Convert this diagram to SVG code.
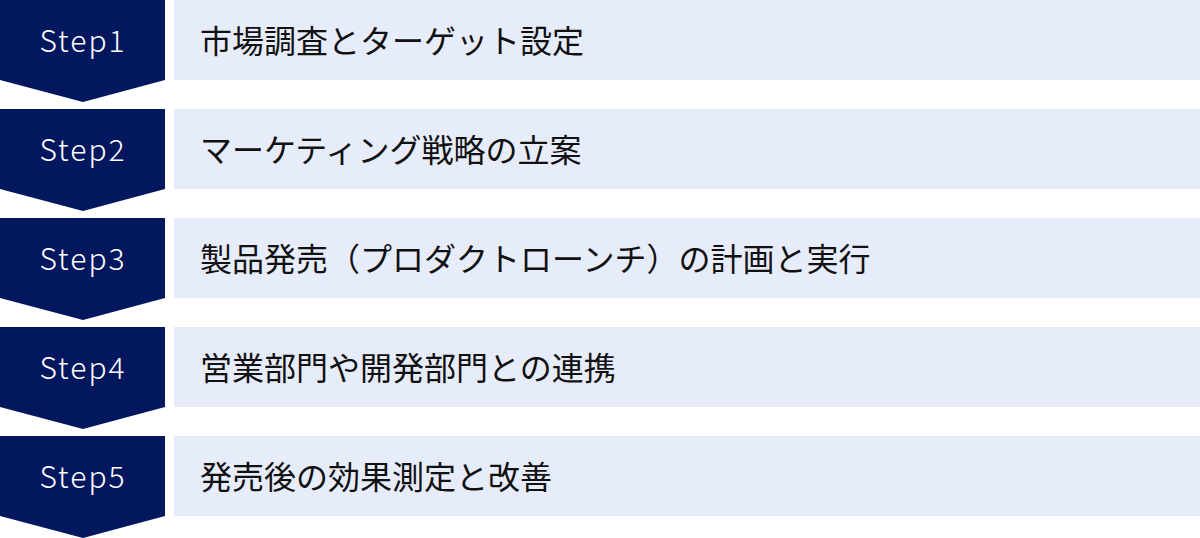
<svg xmlns="http://www.w3.org/2000/svg" width="1200" height="538" viewBox="0 0 1200 538">
<style>
.chev{fill:#03175F}
.box{fill:#E6ECF9}
.st{font-family:"Noto Sans CJK JP","Noto Sans",sans-serif;font-size:30px;font-weight:300;fill:#FFFFFF;text-anchor:middle;letter-spacing:2px}
.lb{font-family:"Noto Sans CJK JP","Noto Sans CJK SC",sans-serif;font-size:32px;fill:#111111}
</style>
<defs>
<path id="chev" d="M0 0H165V80L83 102L0 80Z"/>
</defs>
<rect width="1200" height="538" fill="#FFFFFF"/>
<g id="step1" transform="translate(0,0)">
<use href="#chev" class="chev"/>
<rect class="box" x="174" y="0" width="1026" height="80"/>
<text class="st" x="83" y="52">Step1</text>
<text class="lb" x="200" y="53">市場調査とターゲット設定</text>
</g>
<g id="step2" transform="translate(0,109)">
<use href="#chev" class="chev"/>
<rect class="box" x="174" y="0" width="1026" height="80"/>
<text class="st" x="83" y="52">Step2</text>
<text class="lb" x="200" y="53">マーケティング戦略の立案</text>
</g>
<g id="step3" transform="translate(0,218)">
<use href="#chev" class="chev"/>
<rect class="box" x="174" y="0" width="1026" height="80"/>
<text class="st" x="83" y="52">Step3</text>
<text class="lb" x="200" y="53">製品発売（プロダクトローンチ）の計画と実行</text>
</g>
<g id="step4" transform="translate(0,327)">
<use href="#chev" class="chev"/>
<rect class="box" x="174" y="0" width="1026" height="80"/>
<text class="st" x="83" y="52">Step4</text>
<text class="lb" x="200" y="53">営業部門や開発部門との連携</text>
</g>
<g id="step5" transform="translate(0,436)">
<use href="#chev" class="chev"/>
<rect class="box" x="174" y="0" width="1026" height="80"/>
<text class="st" x="83" y="52">Step5</text>
<text class="lb" x="200" y="53">発売後の効果測定と改善</text>
</g>
<g id="connectors"></g>
</svg>
